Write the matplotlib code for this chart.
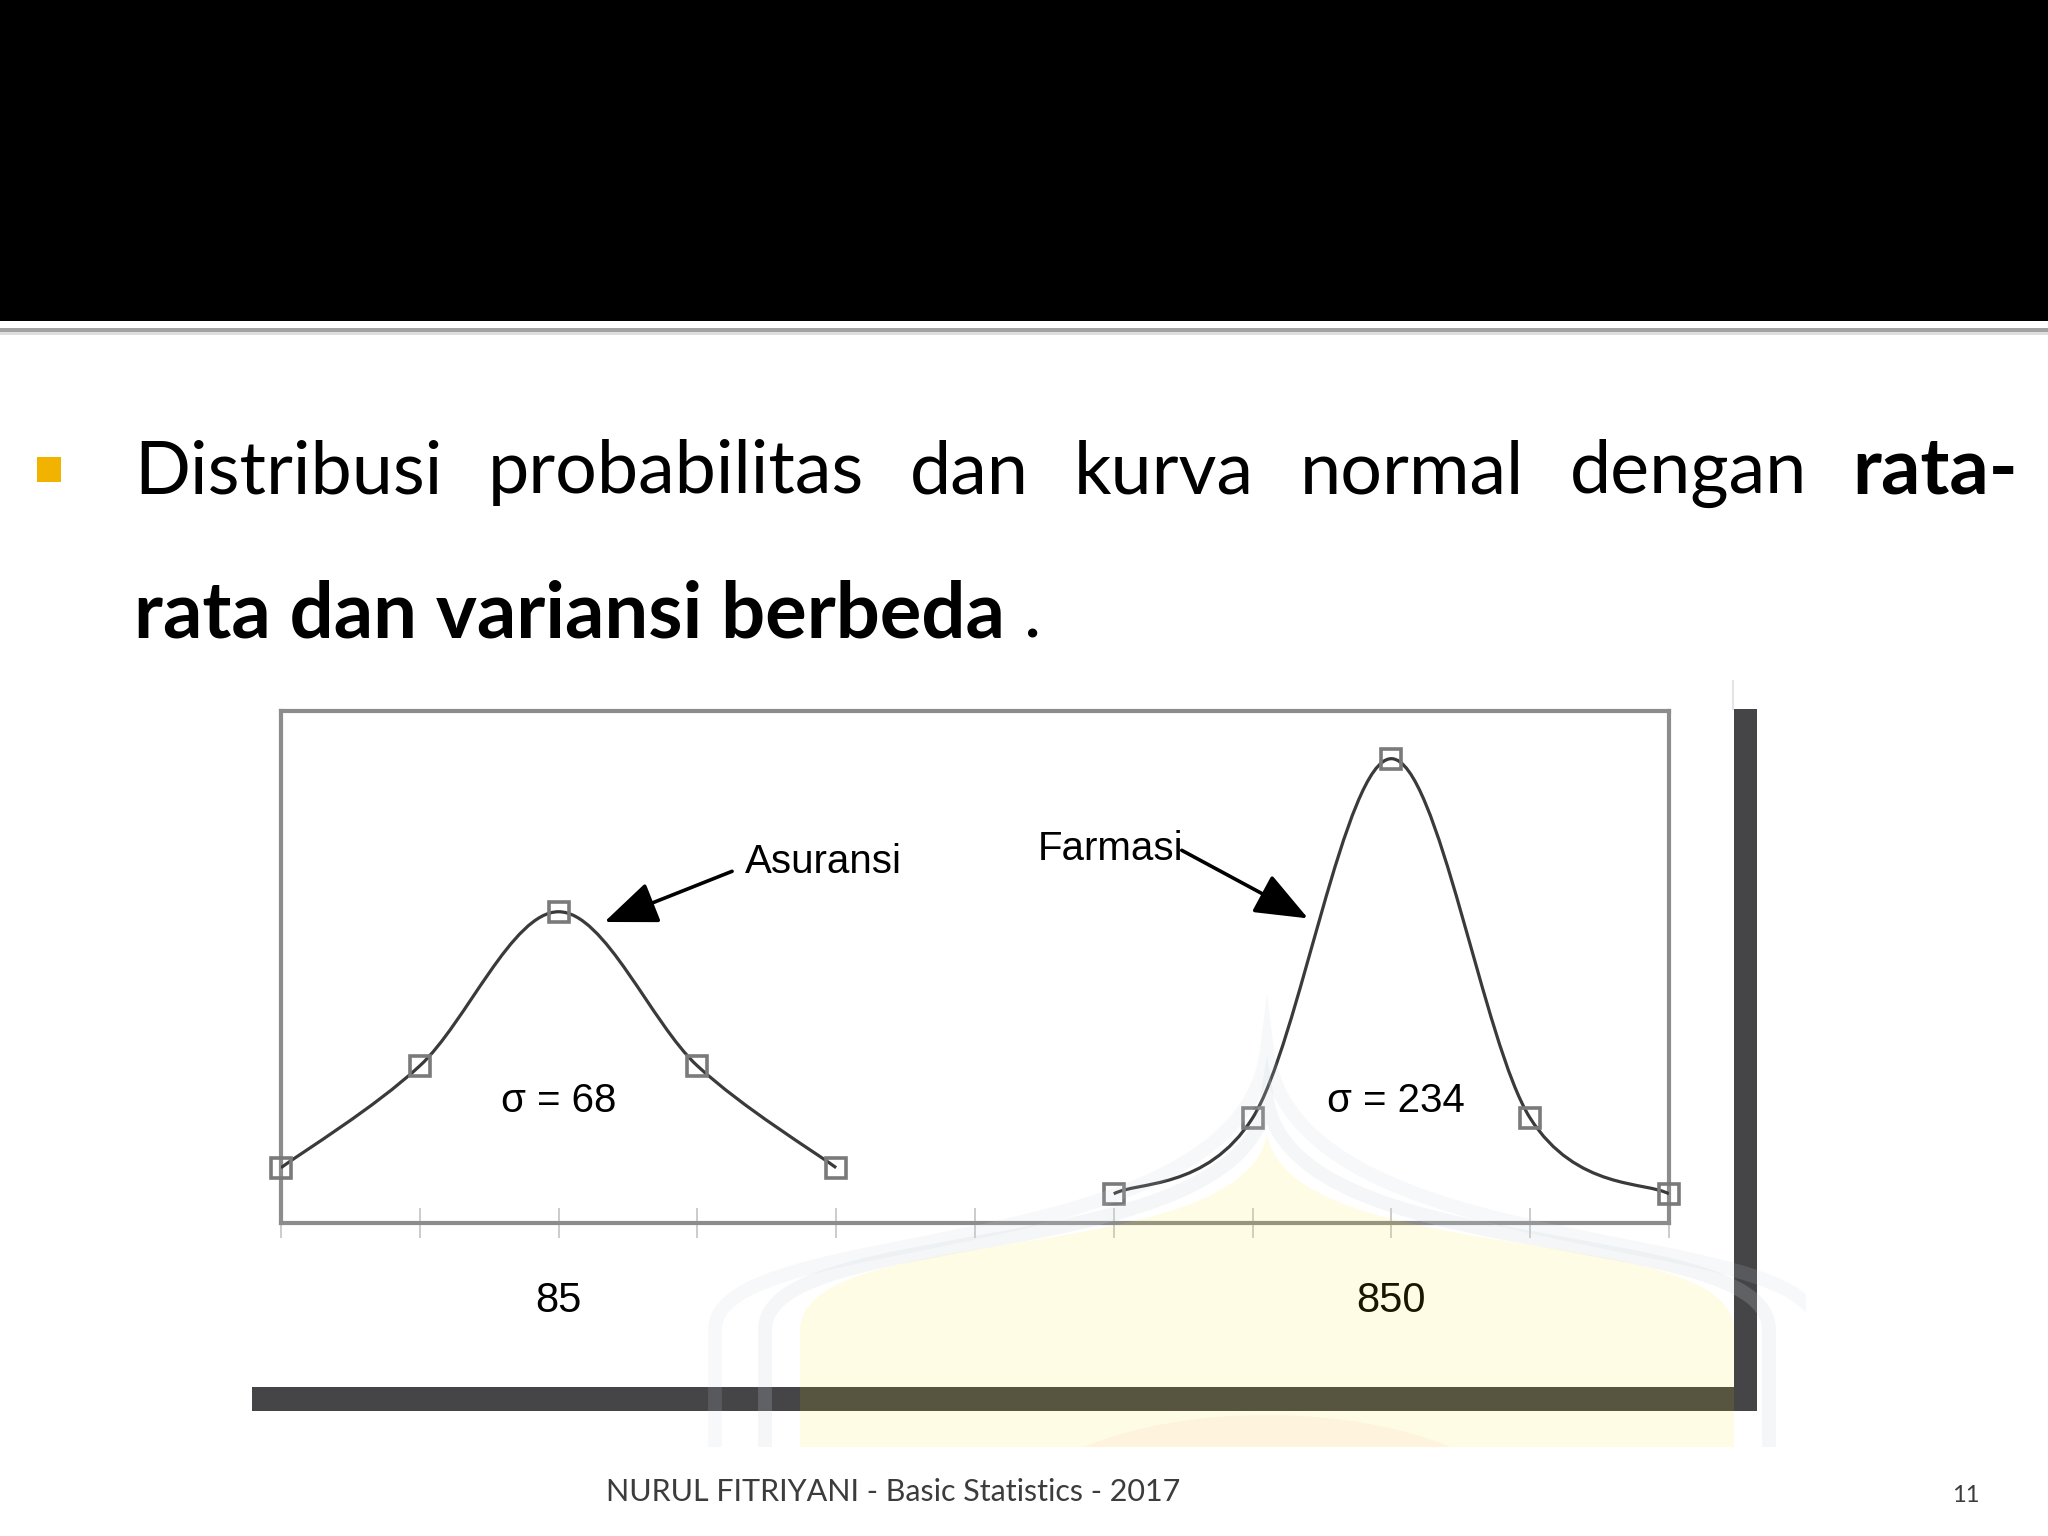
import matplotlib
matplotlib.use("Agg")
import matplotlib.pyplot as plt
from matplotlib.path import Path
from matplotlib.patches import PathPatch, Rectangle, Ellipse


# values (y is % of the chart frame height)
tick_pos = list(range(11))
tick_labels = ["", "", "85", "", "", "", "", "", "850", "", ""]
asuransi_x = [0, 1, 2, 3, 4]
asuransi_y = [10.7, 30.6, 60.7, 30.6, 10.7]
farmasi_x = [6, 7, 8, 9, 10]
farmasi_y = [5.6, 20.4, 90.6, 20.4, 5.6]
sigma_text = ["σ = 68", "σ = 234"]
sigma_x = [2.0, 8.03]

line1_words = ["Distribusi", "probabilitas", "dan", "kurva", "normal",
               "dengan", "rata-"]
line1_bold = [False, False, False, False, False, False, True]
line2_bold = "rata dan variansi berbeda"
line2_rest = " ."
footer = "NURUL FITRIYANI - Basic Statistics - 2017"
page_no = "11"

main_font = ["Lato", "DejaVu Sans"]
chart_font = ["Liberation Sans Narrow", "Liberation Sans", "DejaVu Sans"]


def smooth_path(xs, ys):
	# bezier segments through the points (catmull-rom style handles)
	pts = list(zip(xs, ys))
	n = len(pts)
	verts = [pts[0]]
	codes = [Path.MOVETO]
	for i in range(n - 1):
		p0 = pts[max(i - 1, 0)]
		p1 = pts[i]
		p2 = pts[i + 1]
		p3 = pts[min(i + 2, n - 1)]
		c1 = (p1[0] + (p2[0] - p0[0]) / 6.0, p1[1] + (p2[1] - p0[1]) / 6.0)
		c2 = (p2[0] - (p3[0] - p1[0]) / 6.0, p2[1] - (p3[1] - p1[1]) / 6.0)
		verts += [c1, c2, p2]
		codes += [Path.CURVE4] * 3
	return Path(verts, codes)


fig = plt.figure(figsize=(20.48, 15.36), dpi=100)
fig.patch.set_facecolor("white")

# background layer in pixel units
bg = fig.add_axes([0, 0, 1, 1], zorder=0)
bg.set_xlim(0, 2048)
bg.set_ylim(1536, 0)
bg.axis("off")

bg.add_patch(Rectangle((0, 0), 2048, 321, color="black", lw=0))
bg.add_patch(Rectangle((0, 328), 2048, 4, color="#a2a2a2", lw=0))
bg.add_patch(Rectangle((0, 332), 2048, 3, color="#dedede", lw=0))

# bullet
bg.add_patch(Rectangle((37, 457), 24, 25, color="#F2B200", lw=0))

renderer = fig.canvas.get_renderer()
fs_main = 53
fs_bold = 56
x_left, x_right = 134, 2018
items = []
widths = []
for w, b in zip(line1_words, line1_bold):
	t = bg.text(0, 493, w, fontsize=fs_bold if b else fs_main,
		family=main_font, fontweight="bold" if b else "normal",
		ha="left", va="baseline", color="black")
	items.append(t)
	widths.append(t.get_window_extent(renderer).width)
gap = (x_right - x_left - sum(widths)) / (len(widths) - 1)
x = x_left
for t, w in zip(items, widths):
	t.set_x(x)
	x += w + gap

t2 = bg.text(x_left, 637, line2_bold, fontsize=fs_bold, family=main_font,
	fontweight="bold", ha="left", va="baseline", color="black")
w2 = t2.get_window_extent(renderer).width
bg.text(x_left + w2, 637, line2_rest, fontsize=fs_main, family=main_font,
	ha="left", va="baseline", color="black")

bg.text(893, 1492, footer, fontsize=22, family=main_font, color="#3c3c3c",
	ha="center", va="center")
bg.text(1966, 1495, page_no, fontsize=17, family=main_font, color="#3c3c3c",
	ha="center", va="center")

# picture shadow bars
bg.add_patch(Rectangle((1734, 709), 23, 702, color="#454547", lw=0))
bg.add_patch(Rectangle((252, 1387), 1505, 24, color="#454547", lw=0))
bg.add_patch(Rectangle((1732, 680), 2, 30, color="#e4e4e4", lw=0))

# chart
ax = fig.add_axes([0.1372, 0.2041, 0.6777, 0.3333], zorder=1)
ax.set_facecolor("none")
ax.set_xlim(0, 10)
ax.set_ylim(0, 100)
for s in ax.spines.values():
	s.set_color("#8c8c8c")
	s.set_linewidth(3)
ax.set_xticks(tick_pos)
ax.set_xticklabels(tick_labels, fontsize=30, family=chart_font)
ax.set_yticks([])
ax.tick_params(axis="x", direction="inout", length=22, width=1.2,
	color="#c4c4c4", pad=31)

for xs, ys in [(asuransi_x, asuransi_y), (farmasi_x, farmasi_y)]:
	ax.add_patch(PathPatch(smooth_path(xs, ys), facecolor="none",
		edgecolor="#3a3a3a", lw=2.3, zorder=3))
	ax.plot(xs, ys, ls="none", marker="s", markersize=15,
		markerfacecolor="none", markeredgecolor="#7a7a7a",
		markeredgewidth=2.6, clip_on=False, zorder=4)

arrow = dict(arrowstyle="-|>,head_length=1.5,head_width=0.6",
	mutation_scale=22, lw=2.6, color="black", shrinkA=0, shrinkB=0)
ax.annotate("", xy=(2.33, 58.7), xytext=(3.25, 68.6), arrowprops=arrow)
ax.annotate("", xy=(7.40, 59.4), xytext=(6.49, 72.7), arrowprops=arrow)
ax.text(3.34, 70.4, "Asuransi", fontsize=29, family=chart_font,
	ha="left", va="center")
ax.text(6.50, 72.9, "Farmasi", fontsize=29, family=chart_font,
	ha="right", va="center")
for sx, st in zip(sigma_x, sigma_text):
	ax.text(sx, 23.7, st, fontsize=29, family=chart_font,
		ha="center", va="center")

# faint dome watermark on top, clipped to the picture area
top = fig.add_axes([0, 0, 1, 1], zorder=3)
top.set_facecolor("none")
top.set_xlim(0, 2048)
top.set_ylim(1536, 0)
top.axis("off")
clip = Rectangle((252, 679), 1554, 768, transform=top.transData)


def dome(cx, tip_y, half_w, side_y, base_y):
	return Path(
		[(cx - half_w, base_y), (cx - half_w, side_y),
		 (cx - half_w, side_y - 110), (cx - 25, side_y - 60), (cx, tip_y),
		 (cx + 25, side_y - 60), (cx + half_w, side_y - 110),
		 (cx + half_w, side_y), (cx + half_w, base_y), (cx - half_w, base_y)],
		[Path.MOVETO, Path.LINETO, Path.CURVE4, Path.CURVE4, Path.CURVE4,
		 Path.CURVE4, Path.CURVE4, Path.CURVE4, Path.LINETO, Path.CLOSEPOLY])


inner = PathPatch(dome(1267, 1134, 467, 1330, 1460),
	facecolor=(1.0, 0.92, 0.0), alpha=0.1, lw=0)
top.add_patch(inner)
inner.set_clip_path(clip)
for off, a in [(35, 0.2), (85, 0.14)]:
	ring = PathPatch(dome(1267, 1134 - off, 467 + off, 1330, 1470),
		facecolor="none", edgecolor="#c9d3de", lw=10, alpha=a)
	top.add_patch(ring)
	ring.set_clip_path(clip)
red = Ellipse((1267, 1525), 520, 220, facecolor=(0.95, 0.3, 0.25),
	alpha=0.05, lw=0)
top.add_patch(red)
red.set_clip_path(clip)

fig.savefig("out.png", dpi=100)
